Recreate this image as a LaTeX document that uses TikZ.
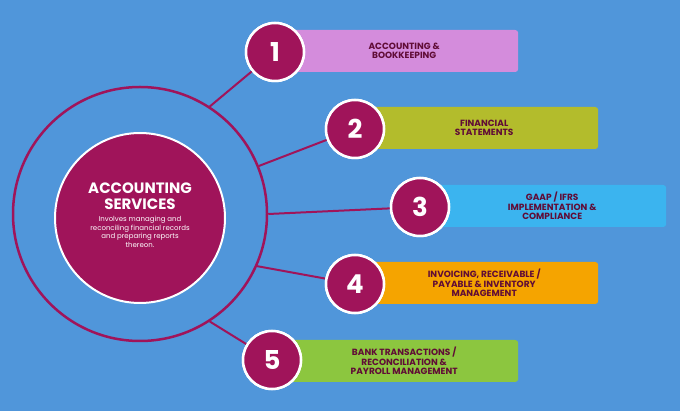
\documentclass[tikz,border=0pt]{standalone}
\usepackage{fontspec}
\setmainfont{Poppins}
\definecolor{bg}{HTML}{5096DA}
\definecolor{mag}{HTML}{A0145A}
\definecolor{c1}{HTML}{D48CDC}
\definecolor{c2}{HTML}{B3BC2C}
\definecolor{c3}{HTML}{3BB4EF}
\definecolor{c4}{HTML}{F5A400}
\definecolor{c5}{HTML}{8CC63F}
\newcommand{\bigt}{\fontsize{15}{16}\selectfont\bfseries}
\newcommand{\smallt}{\fontsize{7}{8.5}\selectfont}
\begin{document}
\begin{tikzpicture}[x=1pt,y=-1pt,
 num/.style={circle,fill=mag,draw=white,line width=2.5pt,minimum size=58pt,inner sep=0pt,text=white,font=\fontsize{26}{26}\selectfont\bfseries},
 lab/.style={rounded corners=3pt,minimum width=228pt,minimum height=42pt,align=center,text=mag!60!black,font=\fontsize{9}{9.5}\selectfont\bfseries,anchor=west},
 link/.style={draw=mag,line width=2pt}]
\fill[bg] (0,0) rectangle (680,411);
\useasboundingbox (0,0) rectangle (680,411);
\node[circle,draw=mag,line width=2.5pt,minimum size=254pt] (ring) at (140,214) {};
\node[circle,fill=mag,draw=white,line width=2pt,minimum size=170pt,inner sep=0pt,text=white] (core) at (140,218) {};
\node[text=white,align=center,font=\bigt] (title) at (140,196) {ACCOUNTING\\SERVICES};
\node[text=white,align=center,font=\smallt,anchor=north] (desc) at (title.south) {Involves managing and\\reconciling financial records\\and preparing reports\\thereon.};
\node[lab,fill=c1] (b1) at (290,51) {ACCOUNTING \&\\BOOKKEEPING};
\node[lab,fill=c2] (b2) at (370,128) {FINANCIAL\\STATEMENTS};
\node[lab,fill=c3] (b3) at (438,206) {GAAP / IFRS\\IMPLEMENTATION \&\\COMPLIANCE};
\node[lab,fill=c4] (b4) at (370,283) {INVOICING, RECEIVABLE /\\PAYABLE \& INVENTORY\\MANAGEMENT};
\node[lab,fill=c5] (b5) at (290,361) {BANK TRANSACTIONS /\\RECONCILIATION \&\\PAYROLL MANAGEMENT};
\node[num] (n1) at (275,52) {};
\node[num] (n2) at (355,129) {};
\node[num] (n3) at (420,207) {};
\node[num] (n4) at (355,284) {};
\node[num] (n5) at (272,360) {};
\foreach \a/\n in {57/n1,22/n2,0/n3,-24/n4,-57/n5}
  \draw[link] (ring.\a) -- (\n);
\foreach \n in {1,...,5} \node[num] at (n\n) {\n};
\end{tikzpicture}
\end{document}
